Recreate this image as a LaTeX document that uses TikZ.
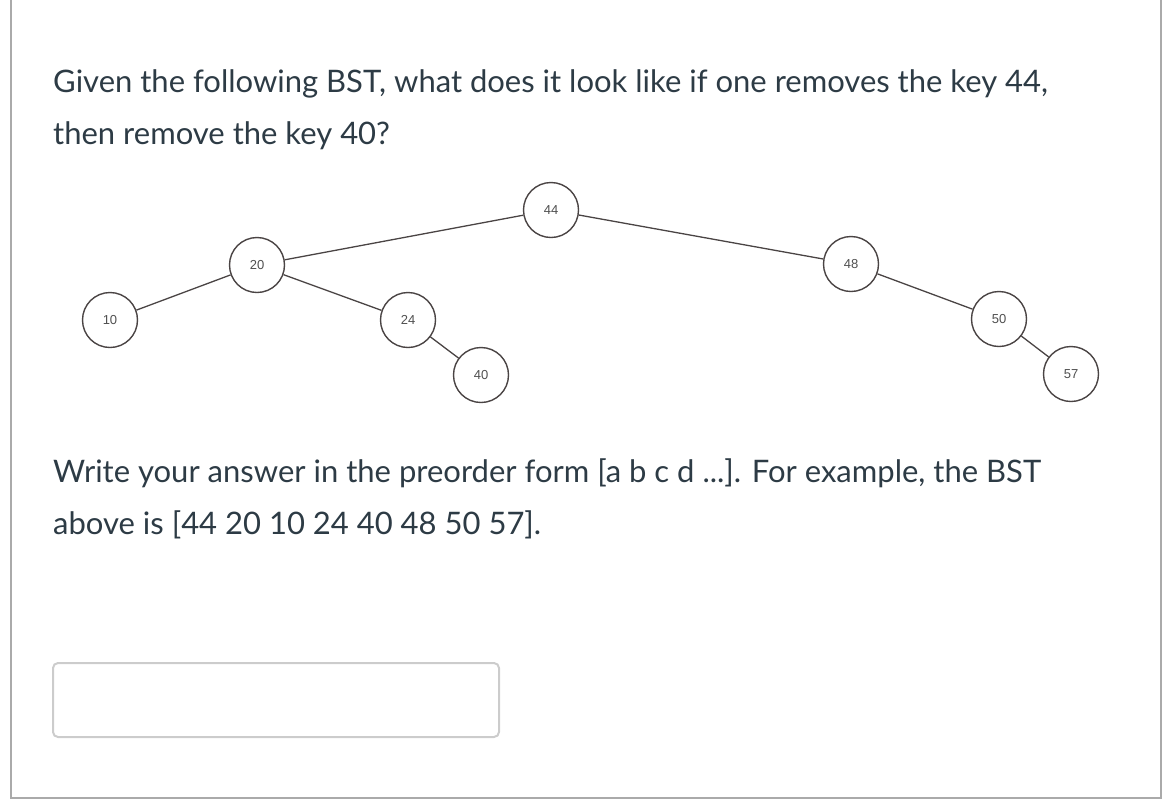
\documentclass[tikz,border=0pt]{standalone}
\usepackage{fontspec}
\setmainfont{Lato}
\newfontfamily\keyfont{Liberation Sans}
\usetikzlibrary{positioning}
\definecolor{inkslate}{HTML}{2D3B45}
\definecolor{keyring}{HTML}{4A4444}
\definecolor{keytext}{HTML}{505050}
\definecolor{frameline}{HTML}{AAAAAA}
\definecolor{boxline}{HTML}{CCCCCC}
\tikzset{
	keynode/.style={circle, draw=keyring, line width=1.4pt, fill=white, minimum size=55pt, inner sep=0pt, font=\keyfont\fontsize{13}{15}\selectfont, text=keytext},
	branch/.style={draw=keyring, line width=1.3pt},
	qline/.style={anchor=base west, inner sep=0pt, text=inkslate, font=\fontsize{31}{37}\selectfont}
}

\begin{document}
\begin{tikzpicture}[x=1pt, y=-1pt]
			%%%%% START %%%%%
			\useasboundingbox (0, 0) rectangle (1166, 804);
			
			\draw[frameline, line width=2pt] (11, -5) -- (11, 798) -- (1161, 798) -- (1161, -5);
			
			\node[qline] (q1) at (53, 92) {Given the following BST, what does it look like if one removes the key 44,};
			\node[qline] (q2) at (53, 144) {then remove the key 40?};
			
			\node[keynode] (k44) at (551, 210) {44};
			\node[keynode] (k20) at (257, 265) {20};
			\node[keynode] (k48) at (851, 264) {48};
			\node[keynode] (k10) at (110, 320) {10};
			\node[keynode] (k24) at (408, 320) {24};
			\node[keynode] (k50) at (999, 319) {50};
			\node[keynode] (k40) at (481, 375) {40};
			\node[keynode] (k57) at (1071, 374) {57};
			
			\draw[branch] (k44) -- (k20);
			\draw[branch] (k44) -- (k48);
			\draw[branch] (k20) -- (k10);
			\draw[branch] (k20) -- (k24);
			\draw[branch] (k24) -- (k40);
			\draw[branch] (k48) -- (k50);
			\draw[branch] (k50) -- (k57);
			
			\node[qline] (w1) at (53, 482) {Write your answer in the preorder form [a b c d ...]. For example, the BST};
			\node[qline] (w2) at (53, 534) {above is [44 20 10 24 40 48 50 57].};
			
			\draw[boxline, line width=2pt, rounded corners=5pt] (53, 663) rectangle (499, 737);
			%%%%% END %%%%%
\end{tikzpicture}
\end{document}
